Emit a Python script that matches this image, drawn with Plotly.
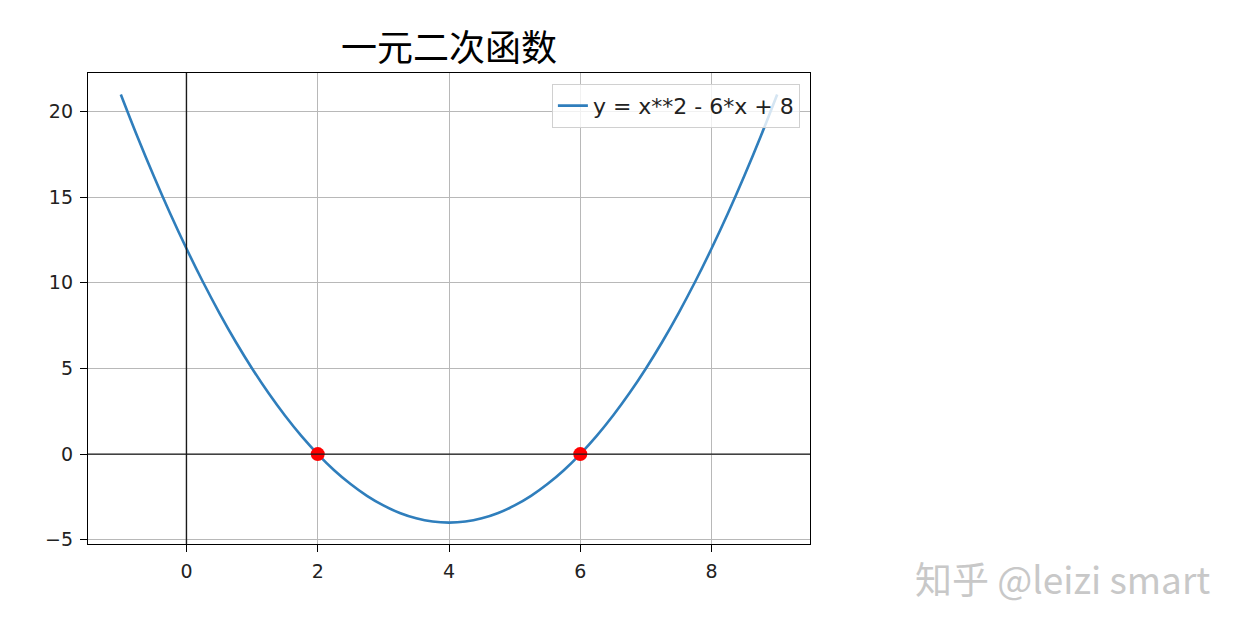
import plotly.graph_objects as go

# curve samples
x_vals = [-1, -0.75, -0.5, -0.25, 0, 0.25, 0.5, 0.75, 1, 1.25, 1.5, 1.75, 2,
          2.25, 2.5, 2.75, 3, 3.25, 3.5, 3.75, 4, 4.25, 4.5, 4.75, 5, 5.25,
          5.5, 5.75, 6, 6.25, 6.5, 6.75, 7, 7.25, 7.5, 7.75, 8, 8.25, 8.5,
          8.75, 9]
y_vals = [21, 18.56, 16.25, 14.06, 12, 10.06, 8.25, 6.56, 5, 3.56, 2.25, 1.06, 0,
          -0.94, -1.75, -2.44, -3, -3.44, -3.75, -3.94, -4, -3.94, -3.75, -3.44,
          -3, -2.44, -1.75, -0.94, 0, 1.06, 2.25, 3.56, 5, 6.56, 8.25, 10.06,
          12, 14.06, 16.25, 18.56, 21]
# roots marked in red
root_x = [2, 6]
root_y = [0, 0]

x_ticks = [0, 2, 4, 6, 8]
y_ticks = [-5, 0, 5, 10, 15, 20]

# page body has an 8px margin, so the figure is shrunk to fit the window
W, H = 1234, 621
L, T, R, B = 80, 65, 432, 85

fig = go.Figure()
fig.add_scatter(x=x_vals, y=y_vals, mode='lines', name='y = x**2 - 6*x + 8',
                line=dict(color='#2f7ebc', width=2.6, shape='spline'))
fig.add_scatter(x=root_x, y=root_y, mode='markers', showlegend=False,
                marker=dict(color='red', size=14))

# axhline / axvline through origin
fig.add_shape(type='line', xref='paper', yref='y', x0=0, x1=1, y0=0, y1=0,
              line=dict(color='#1a1a1a', width=1.4), layer='above')
fig.add_shape(type='line', xref='x', yref='paper', x0=0, x1=0, y0=0, y1=1,
              line=dict(color='#1a1a1a', width=1.4), layer='above')

axis_style = dict(showline=True, linecolor='black', linewidth=1.3, mirror=True,
                  ticks='outside', ticklen=7, tickwidth=1.2, tickcolor='black',
                  ticklabelstandoff=3,
                  showgrid=True, gridcolor='#b8b8b8', gridwidth=1.3,
                  zeroline=False, tickfont=dict(family='DejaVu Sans', size=19, color='#222'))

fig.update_layout(
    width=W, height=H,
    margin=dict(l=L, r=R, t=T, b=B),
    plot_bgcolor='white', paper_bgcolor='white',
    title=dict(text='一元二次函数', x=(L + (W - R)) / 2 / W, xanchor='center',
               y=1 - 40 / H, yanchor='middle',
               font=dict(family='Noto Sans CJK SC', size=36, color='black')),
    xaxis=dict(range=[-1.5, 9.5], tickvals=x_ticks, **axis_style),
    yaxis=dict(range=[-5.25, 22.25], tickvals=y_ticks, **axis_style),
    legend=dict(x=0.986, y=0.977, xanchor='right', yanchor='top',
                bgcolor='rgba(255,255,255,0.8)', bordercolor='#d0d0d0', borderwidth=1,
                font=dict(family='DejaVu Sans', size=22, color='#222')),
    annotations=[dict(text='知乎 @leizi smart', xref='paper', yref='paper',
                      x=(1204 - L) / (W - L - R), y=1 - (570 - T) / (H - T - B),
                      xanchor='right', yanchor='middle', showarrow=False,
                      font=dict(family='Noto Sans CJK SC', size=37, color='#c8c8c8'))],
)

fig.write_html("out.html")
